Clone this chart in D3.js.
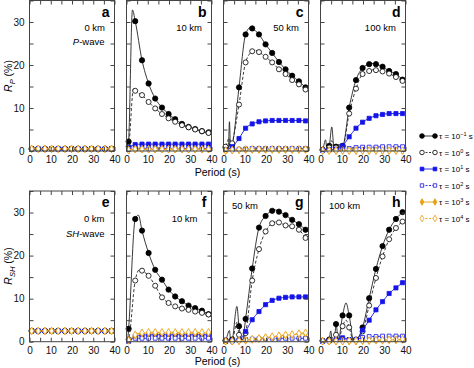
<!DOCTYPE html>
<html><head><meta charset="utf-8">
<script src="https://cdn.jsdelivr.net/npm/d3@7"></script>
<style>body{margin:0;background:#fff}svg{display:block;font-family:"Liberation Sans",Arial,sans-serif}</style>
</head><body><svg id="c" width="474" height="368"></svg>
<script>
// ---------- data ----------
const periods = [1, 4.1, 7.3, 10.4, 13.5, 16.7, 19.8, 22.9, 26.1, 29.2, 32.3, 35.5, 38.6];
const panelLetters = ["a","b","c","d","e","f","g","h"];
const depthLabels = ["0 km","10 km","50 km","100 km","0 km","10 km","50 km","100 km"];
const xTickLabels = [0,10,20,30,40];
const yTickLabels = [0,10,20,30];
const tauExponents = ["\u22121","0","1","2","3","4"];

// one row per panel (a..h), values (%) at the marker periods
const tau1 = [
 [0.5,0.5,0.5,0.5,0.5,0.5,0.5,0.5,0.5,0.5,0.5,0.5,0.5],
 [2.2,30.2,21.1,15.7,12.2,10.1,8.6,7.4,6.3,5.6,5.1,4.6,4.3],
 [0.8,1.5,14.8,27.1,28.5,27.1,24.8,22.8,20.7,19.0,17.5,16.2,14.8],
 [0.3,1.2,1.0,1.2,10.1,16.5,19.3,20.2,20.2,19.6,18.6,17.9,16.6],
 [2.5,2.5,2.5,2.5,2.5,2.5,2.5,2.5,2.5,2.5,2.5,2.5,2.5],
 [3.0,28.5,25.8,20.6,16.7,14.4,12.1,10.5,9.4,8.4,7.8,7.2,6.4],
 [0.3,0.5,3.6,5.3,17.0,26.5,29.2,30.4,30.2,29.4,28.3,27.3,26.0],
 [0.2,0.5,4.1,6.1,6.1,0.5,3.3,10.1,16.9,22.2,26.0,28.5,30.1]
];
const tau2 = [
 [0.5,0.5,0.5,0.5,0.5,0.5,0.5,0.5,0.5,0.5,0.5,0.5,0.5],
 [1.0,14.0,13.0,11.4,9.9,8.6,7.6,6.8,6.0,5.5,5.0,4.6,4.2],
 [1.0,1.8,10.8,20.6,23.2,23.0,21.9,20.6,19.0,17.9,16.5,15.5,14.3],
 [0.2,0.8,0.8,1.0,8.7,14.5,17.9,18.6,18.8,18.5,18.0,17.2,16.3],
 [2.5,2.5,2.5,2.5,2.5,2.5,2.5,2.5,2.5,2.5,2.5,2.5,2.5],
 [0.5,14.2,16.5,15.3,13.0,10.3,9.0,8.2,7.7,7.4,7.0,6.7,6.3],
 [0.2,0.3,1.6,2.0,14.2,21.5,25.6,27.5,27.7,27.0,26.8,26.0,24.1],
 [0.2,0.3,1.6,3.6,3.3,0.4,2.4,8.4,14.8,19.8,23.8,26.4,27.9]
];
const tau3 = [
 [0.5,0.5,0.5,0.5,0.5,0.5,0.5,0.5,0.5,0.5,0.5,0.5,0.5],
 [0.8,1.5,1.6,1.6,1.6,1.6,1.6,1.6,1.6,1.6,1.6,1.6,1.6],
 [0.3,1.0,2.9,5.3,6.3,6.8,7.0,7.1,7.1,7.1,7.1,7.1,7.0],
 [0.2,0.3,0.4,1.2,3.3,5.3,6.7,7.6,8.2,8.5,8.7,8.7,8.7],
 [2.5,2.5,2.5,2.5,2.5,2.5,2.5,2.5,2.5,2.5,2.5,2.5,2.5],
 [0.1,1.2,1.5,1.6,1.6,1.6,1.6,1.6,1.6,1.6,1.6,1.6,1.6],
 [0.1,0.2,0.4,2.4,5.1,7.0,8.6,9.6,10.1,10.3,10.4,10.4,10.4],
 [0.1,0.2,0.4,0.9,0.5,0.4,2.7,5.0,7.4,9.3,11.2,12.5,13.7]
];
const tau4 = [
 [0.5,0.5,0.5,0.5,0.5,0.5,0.5,0.5,0.5,0.5,0.5,0.5,0.5],
 [0.4,0.6,0.6,0.6,0.6,0.6,0.6,0.6,0.6,0.6,0.6,0.6,0.6],
 [0.2,0.3,0.4,0.5,0.6,0.6,0.6,0.6,0.6,0.6,0.6,0.6,0.6],
 [0.1,0.2,0.2,0.3,0.6,0.8,0.9,0.9,0.9,1.0,1.0,1.0,1.0],
 [2.5,2.5,2.5,2.5,2.5,2.5,2.5,2.5,2.5,2.5,2.5,2.5,2.5],
 [0.3,0.8,0.8,0.8,0.8,0.8,0.8,0.8,0.8,0.8,0.8,0.8,0.8],
 [0.1,0.2,0.3,0.5,0.6,0.7,0.7,0.8,0.8,0.8,0.8,0.8,0.8],
 [0.1,0.2,0.3,0.5,0.4,0.5,1.0,1.2,1.2,1.3,1.3,1.3,1.3]
];
const tau5 = [
 [0.5,0.5,0.5,0.5,0.5,0.5,0.5,0.5,0.5,0.5,0.5,0.5,0.5],
 [0.2,0.4,0.4,0.4,0.4,0.4,0.4,0.4,0.4,0.4,0.4,0.4,0.4],
 [0.1,0.2,0.3,0.3,0.3,0.3,0.3,0.3,0.3,0.3,0.3,0.3,0.3],
 [0.1,0.1,0.1,0.1,0.1,0.1,0.1,0.1,0.1,0.1,0.1,0.1,0.1],
 [2.5,2.5,2.5,2.5,2.5,2.5,2.5,2.5,2.5,2.5,2.5,2.5,2.5],
 [0.3,1.5,1.9,2.0,2.0,2.0,2.0,2.0,2.0,2.0,2.0,2.0,2.0],
 [0.1,0.1,0.2,0.3,0.5,0.7,0.9,1.1,1.3,1.5,1.6,1.8,1.9],
 [0.1,0.1,0.1,0.1,0.1,0.1,0.2,0.2,0.3,0.3,0.4,0.4,0.5]
];
const tau6 = [
 [0.5,0.5,0.5,0.5,0.5,0.5,0.5,0.5,0.5,0.5,0.5,0.5,0.5],
 [0.2,0.4,0.4,0.4,0.4,0.4,0.4,0.4,0.4,0.4,0.4,0.4,0.4],
 [0.1,0.2,0.3,0.4,0.4,0.4,0.4,0.4,0.4,0.4,0.4,0.4,0.4],
 [0.1,0.1,0.1,0.1,0.1,0.1,0.1,0.1,0.1,0.1,0.1,0.1,0.1],
 [2.5,2.5,2.5,2.5,2.5,2.5,2.5,2.5,2.5,2.5,2.5,2.5,2.5],
 [0.3,1.6,2.1,2.2,2.2,2.2,2.2,2.2,2.2,2.2,2.2,2.2,2.2],
 [0.1,0.1,0.2,0.4,0.6,0.8,1.0,1.2,1.4,1.6,1.7,1.9,2.1],
 [0.1,0.1,0.1,0.1,0.2,0.2,0.3,0.3,0.4,0.4,0.5,0.5,0.6]
];
// extra [period, value] points of the continuous curves between markers
const tau1Knots = [
 [],
 [[0.5,0],[2.8,32.8]],
 [[0.3,0],[2.3,1.0],[2.8,6.8],[3.3,0.8],[12.6,28.7]],
 [[0.3,0],[2.4,2.6],[3.0,0.4],[3.6,1.0],[5.3,5.6],[6.4,0.6],[8.6,1.5],[23.8,20.4]],
 [],
 [[0.5,0],[5.6,29.4]],
 [[0.3,0],[2.8,2.6],[3.4,0.2],[6.3,8.2],[9.0,0.4],[24.5,30.6]],
 [[0.3,0],[3.5,0.2],[4.8,2.5],[5.6,0.2],[6.6,0.5],[8.4,0.5],[12.0,9.0],[15.5,0.4]]
];
const tau2Knots = [
 [],
 [[0.5,0],[3.3,14.5]],
 [[0.3,0],[2.8,3.0],[3.3,0.5],[14.5,23.5]],
 [[0.3,0],[5.3,2.4],[6.6,0.4],[25.0,18.9]],
 [],
 [[0.5,0],[6.2,16.8]],
 [[0.3,0],[6.3,4.5],[9.0,0.3],[24.5,27.8]],
 [[0.3,0],[8.4,0.3],[12.0,5.0],[15.5,0.3]]
];

// ---------- layout ----------
const svg = d3.select("#c");
const PW = 85, X0 = 29.5, DX = 97;
const rowY = [{b:151, t:0.5}, {b:341.7, t:191}];
const FRAME = "#444";
const BLUE = "#1414e8", ORANGE = "#e8a010";

const seriesDefs = [
 {vals:tau1, knots:tau1Knots, line:"#222", mark:"#000", dash:null, sym:d3.symbolCircle, size:22, filled:true},
 {vals:tau2, knots:tau2Knots, line:"#222", mark:"#000", dash:"3,2", sym:d3.symbolCircle, size:20, filled:false},
 {vals:tau3, knots:null, line:BLUE, mark:BLUE, dash:null, sym:d3.symbolSquare, size:17, filled:true},
 {vals:tau4, knots:null, line:BLUE, mark:BLUE, dash:"3,2", sym:d3.symbolSquare, size:15, filled:false},
 {vals:tau5, knots:null, line:ORANGE, mark:ORANGE, dash:null, sym:d3.symbolDiamond, size:16, filled:true},
 {vals:tau6, knots:null, line:ORANGE, mark:ORANGE, dash:"3,2", sym:d3.symbolDiamond, size:16, filled:false}
];

for (let i = 0; i < 8; i++) {
  const col = i % 4, row = Math.floor(i / 4);
  const x0 = X0 + DX * col;
  const x = d3.scaleLinear().domain([0, 40]).range([x0, x0 + PW]);
  const y = d3.scaleLinear().domain([0, 35]).range([rowY[row].b, rowY[row].t]);
  const g = svg.append("g");

  // series
  seriesDefs.forEach(s => {
    let pts = periods.map((p, k) => [p, s.vals[i][k]]);
    if (s.knots) pts = pts.concat(s.knots[i]);
    pts.sort((a, b) => a[0] - b[0]);
    const line = d3.line().x(d => x(d[0])).y(d => y(d[1])).curve(d3.curveMonotoneX);
    g.append("path").attr("d", line(pts)).attr("fill", "none")
      .attr("stroke", s.line).attr("stroke-width", 0.9)
      .attr("stroke-dasharray", s.dash);
    g.selectAll(null).data(periods.map((p, k) => [p, s.vals[i][k]])).join("path")
      .attr("transform", d => `translate(${x(d[0])},${y(d[1])})`)
      .attr("d", d3.symbol(s.sym, s.size))
      .attr("fill", s.filled ? s.mark : "#fff")
      .attr("stroke", s.mark).attr("stroke-width", 0.8);
  });

  // axes (inward ticks)
  const xt = d3.range(0, 41, 5), yt = d3.range(0, 36, 5);
  const ax = (a) => a.tickSize(-4).tickSizeOuter(0);
  const gb = g.append("g").attr("transform", `translate(0,${rowY[row].b})`)
    .call(ax(d3.axisBottom(x).tickValues(xt).tickPadding(5)
      .tickFormat(d => xTickLabels.includes(d) ? d : "")));
  g.append("g").attr("transform", `translate(0,${rowY[row].t})`)
    .call(ax(d3.axisTop(x).tickValues(xt).tickFormat("")));
  g.append("g").attr("transform", `translate(${x0},0)`)
    .call(ax(d3.axisLeft(y).tickValues(yt).tickPadding(5)
      .tickFormat(d => (col === 0 && yTickLabels.includes(d)) ? d : "")));
  g.append("g").attr("transform", `translate(${x0 + PW},0)`)
    .call(ax(d3.axisRight(y).tickValues(yt).tickFormat("")));
  g.selectAll(".domain").remove();
  g.selectAll(".tick line").attr("stroke", FRAME);
  g.selectAll(".tick text").attr("font-size", 10).attr("fill", "#111")
    .attr("font-family", "'Liberation Sans',Arial,sans-serif");
  g.append("rect").attr("x", x0).attr("y", rowY[row].t).attr("width", PW)
    .attr("height", rowY[row].b - rowY[row].t).attr("fill", "none")
    .attr("stroke", FRAME).attr("stroke-width", 1);

  // panel letter
  g.append("text").attr("x", x0 + PW - 5).attr("y", rowY[row].t + 16)
    .attr("text-anchor", "end").attr("font-size", 14).attr("font-weight", "bold")
    .text(panelLetters[i]);
  // depth label
  let dx, dy, anchor = "end";
  if (row === 0) { dx = x0 + PW - 9.5; dy = rowY[row].t + 30; }
  else if (col < 2) { dx = x0 + PW - (col === 0 ? 10 : 14); dy = rowY[row].t + 31; }
  else { dx = x0 + 8.5; dy = rowY[row].t + 18; anchor = "start"; }
  g.append("text").attr("x", dx).attr("y", dy).attr("text-anchor", anchor)
    .attr("font-size", 9.5).text(depthLabels[i]);
  if (col === 0) {
    const t = g.append("text").attr("x", x0 + PW - 10).attr("y", rowY[row].t + (row === 0 ? 44 : 46))
      .attr("text-anchor", "end").attr("font-size", 9.5);
    t.append("tspan").attr("font-style", "italic").text(row === 0 ? "P" : "SH");
    t.append("tspan").text("-wave");
  }
}

// x-axis titles
[176, 365].forEach(yy => {
  svg.append("text").attr("x", 217.5).attr("y", yy).attr("text-anchor", "middle")
    .attr("font-size", 10.5).text("Period (s)");
});
// y-axis titles
[[12, 76, "P"], [12, 266, "SH"]].forEach(([xx, yy, sub]) => {
  const t = svg.append("text").attr("transform", `translate(${xx},${yy}) rotate(-90)`)
    .attr("text-anchor", "middle").attr("font-size", 10.5);
  t.append("tspan").attr("font-style", "italic").text("R");
  t.append("tspan").attr("font-style", "italic").attr("font-size", 7.5).attr("dy", 2.5).text(sub);
  t.append("tspan").attr("dy", -2.5).text(" (%)");
});

// legend
const legY = [136, 152.5, 169, 185.5, 202, 218.5];
seriesDefs.forEach((s, k) => {
  const lg = svg.append("g");
  lg.append("line").attr("x1", 422).attr("x2", 435).attr("y1", legY[k]).attr("y2", legY[k])
    .attr("stroke", s.line).attr("stroke-width", 0.9).attr("stroke-dasharray", s.dash ? "2,1.5" : null);
  [422, 435].forEach(xx => {
    lg.append("path").attr("transform", `translate(${xx},${legY[k]})`)
      .attr("d", d3.symbol(s.sym, s.size * 0.8))
      .attr("fill", s.filled ? s.mark : "#fff").attr("stroke", s.mark).attr("stroke-width", 0.8);
  });
  const t = lg.append("text").attr("x", 439).attr("y", legY[k] + 3).attr("font-size", 8);
  t.append("tspan").text("\u03c4 = 10");
  t.append("tspan").attr("dy", -3).attr("font-size", 5.5).text(tauExponents[k]);
  t.append("tspan").attr("dy", 3).text(" s");
});
</script>
</body></html>
